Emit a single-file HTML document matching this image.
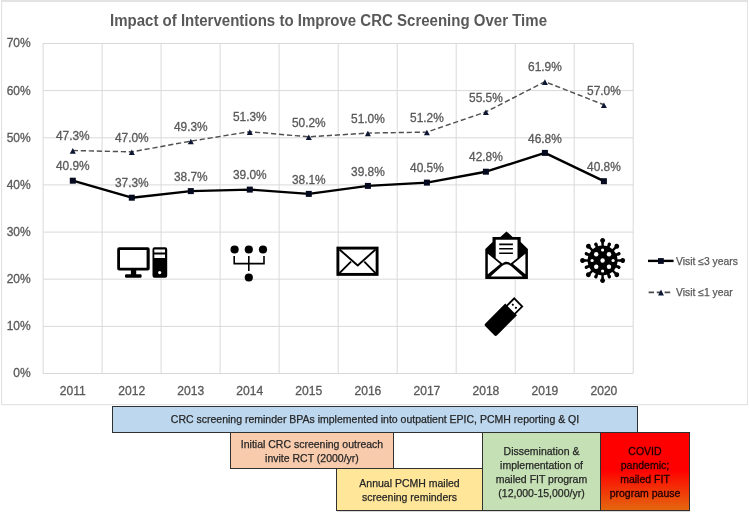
<!DOCTYPE html>
<html><head><meta charset="utf-8">
<style>
html,body{margin:0;padding:0;background:#fff;}
body{width:749px;height:512px;overflow:hidden;position:relative;font-family:"Liberation Sans",sans-serif;}
svg{position:absolute;left:0;top:0;will-change:transform;}
.box{will-change:transform;position:absolute;box-sizing:border-box;border:1px solid #303030;display:flex;align-items:center;justify-content:center;text-align:center;font-size:10.5px;line-height:14px;color:#262626;-webkit-text-stroke:0.25px #262626;}
</style></head>
<body>
<svg width="749" height="512" viewBox="0 0 749 512" font-family="Liberation Sans, sans-serif">
  <g fill="#e3e3e3"><rect x="1" y="0" width="747" height="2"/><rect x="1" y="0" width="1.2" height="405"/><rect x="747" y="0" width="1" height="405"/><rect x="1" y="404" width="747" height="1.2"/></g>
  <text x="110" y="25.8" font-size="16" font-weight="bold" fill="#595959" textLength="437" lengthAdjust="spacingAndGlyphs">Impact of Interventions to Improve CRC Screening Over Time</text>
<g stroke="#d9d9d9" stroke-width="1" fill="none"><path d="M43 373.5H633.2M43 326.4H633.2M43 279.2H633.2M43 232.1H633.2M43 184.9H633.2M43 137.8H633.2M43 90.6H633.2M43 43.5H633.2"/><path d="M43.1 43V373.5M102.1 43V373.5M161.1 43V373.5M220.1 43V373.5M279.1 43V373.5M338.2 43V373.5M397.2 43V373.5M456.2 43V373.5M515.2 43V373.5M574.2 43V373.5M633.2 43V373.5"/></g>
<g font-size="12" fill="#595959" stroke="#595959" stroke-width="0.3" text-anchor="end">
<text x="30.7" y="47.4">70%</text>
<text x="30.7" y="94.5">60%</text>
<text x="30.7" y="141.7">50%</text>
<text x="30.7" y="188.8">40%</text>
<text x="30.7" y="236.0">30%</text>
<text x="30.7" y="283.1">20%</text>
<text x="30.7" y="330.3">10%</text>
<text x="30.7" y="377.4">0%</text>
</g>
<g font-size="12.1" fill="#595959" stroke="#595959" stroke-width="0.3" text-anchor="middle">
<text x="72.8" y="394.9">2011</text>
<text x="131.8" y="394.9">2012</text>
<text x="190.8" y="394.9">2013</text>
<text x="249.8" y="394.9">2014</text>
<text x="308.8" y="394.9">2015</text>
<text x="367.9" y="394.9">2016</text>
<text x="426.9" y="394.9">2017</text>
<text x="485.9" y="394.9">2018</text>
<text x="544.9" y="394.9">2019</text>
<text x="603.9" y="394.9">2020</text>
</g>
<polyline points="72.8,150.5 131.8,151.9 190.8,141.1 249.8,131.7 308.8,136.8 367.9,133.1 426.9,132.1 485.9,111.9 544.9,81.7 603.9,104.8" fill="none" stroke="#505050" stroke-width="1.45" stroke-dasharray="5.2 2.8"/>
<g fill="#0d1633">
<path d="M72.8 148.1l3 5.6h-6z"/>
<path d="M131.8 149.5l3 5.6h-6z"/>
<path d="M190.8 138.7l3 5.6h-6z"/>
<path d="M249.8 129.3l3 5.6h-6z"/>
<path d="M308.8 134.4l3 5.6h-6z"/>
<path d="M367.9 130.7l3 5.6h-6z"/>
<path d="M426.9 129.7l3 5.6h-6z"/>
<path d="M485.9 109.5l3 5.6h-6z"/>
<path d="M544.9 79.3l3 5.6h-6z"/>
<path d="M603.9 102.4l3 5.6h-6z"/>
</g>
<polyline points="72.8,180.7 131.8,197.7 190.8,191.1 249.8,189.6 308.8,193.9 367.9,185.9 426.9,182.6 485.9,171.7 544.9,152.9 603.9,181.2" fill="none" stroke="#000" stroke-width="2.4" stroke-linejoin="round"/>
<g fill="#050a1e">
<rect x="69.8" y="177.7" width="6" height="6"/>
<rect x="128.8" y="194.7" width="6" height="6"/>
<rect x="187.8" y="188.1" width="6" height="6"/>
<rect x="246.8" y="186.6" width="6" height="6"/>
<rect x="305.8" y="190.9" width="6" height="6"/>
<rect x="364.9" y="182.9" width="6" height="6"/>
<rect x="423.9" y="179.6" width="6" height="6"/>
<rect x="482.9" y="168.7" width="6" height="6"/>
<rect x="541.9" y="149.9" width="6" height="6"/>
<rect x="600.9" y="178.2" width="6" height="6"/>
</g>
<g font-size="11.9" fill="#595959" stroke="#595959" stroke-width="0.3" text-anchor="middle">
<text x="72.8" y="140.2">47.3%</text>
<text x="131.8" y="141.6">47.0%</text>
<text x="190.8" y="130.8">49.3%</text>
<text x="249.8" y="121.4">51.3%</text>
<text x="308.8" y="126.5">50.2%</text>
<text x="367.9" y="122.8">51.0%</text>
<text x="426.9" y="121.8">51.2%</text>
<text x="485.9" y="101.6">55.5%</text>
<text x="544.9" y="71.4">61.9%</text>
<text x="603.9" y="94.5">57.0%</text>
<text x="72.8" y="170.4">40.9%</text>
<text x="131.8" y="187.4">37.3%</text>
<text x="190.8" y="180.8">38.7%</text>
<text x="249.8" y="179.3">39.0%</text>
<text x="308.8" y="183.6">38.1%</text>
<text x="367.9" y="175.6">39.8%</text>
<text x="426.9" y="172.3">40.5%</text>
<text x="485.9" y="161.4">42.8%</text>
<text x="544.9" y="142.6">46.8%</text>
<text x="603.9" y="170.9">40.8%</text>
</g>
  <!-- legend -->
  <path d="M648 260.9H673.6" stroke="#000" stroke-width="2.4"/>
  <rect x="658" y="258.1" width="5.8" height="5.8" fill="#050a1e"/>
  <path d="M648.6 292.4H654M656.8 292.4H660M664.6 292.4H670.2" stroke="#4a4a4a" stroke-width="1.6"/>
  <path d="M661 289.6l2.9 5.8h-5.8z" fill="#0d1633"/>
  <g font-size="10.35" fill="#595959" stroke="#595959" stroke-width="0.25">
    <text x="676" y="264.8">Visit ≤3 years</text>
    <text x="676" y="296.4">Visit ≤1 year</text>
  </g>
  <!-- computer 2012 -->
  <g fill="#000">
    <path fill-rule="evenodd" d="M119.2 247.2h28.5a2 2 0 0 1 2 2v19.4a2 2 0 0 1-2 2h-28.5a2 2 0 0 1-2-2v-19.4a2 2 0 0 1 2-2zM120 249.9v17.8h26.6v-17.8z"/>
    <rect x="130.9" y="270" width="5.3" height="5"/>
    <rect x="125" y="274.2" width="16.6" height="3.6" rx="1.2"/>
    <path fill-rule="evenodd" d="M154.5 247.2h10.7a2 2 0 0 1 2 2v26.6a2 2 0 0 1-2 2h-10.7a2 2 0 0 1-2-2v-26.6a2 2 0 0 1 2-2zM154.3 249.5v2.9h10.7v-2.9zM154.3 254.5v3.5h10.7v-3.5z"/>
    <circle cx="159.7" cy="272.6" r="1.6" fill="#fff"/>
  </g>
  <!-- network 2014 -->
  <g fill="#000">
    <circle cx="234.6" cy="249.5" r="4.1"/>
    <circle cx="248.8" cy="249.5" r="4.1"/>
    <circle cx="263" cy="249.5" r="4.1"/>
    <circle cx="248.8" cy="277.5" r="4.1"/>
    <path d="M234.2 256V263.6H264V256M248.8 256V271" fill="none" stroke="#000" stroke-width="1.6"/>
  </g>
  <!-- envelope 2016 -->
  <g>
    <rect x="337.9" y="248.1" width="39.2" height="26.3" fill="none" stroke="#000" stroke-width="2.9"/>
    <path d="M339.5 249.5L357.7 265.5L375.5 249.5M339.5 273.2L351 261.6M375.5 273.2L364.3 261.6" fill="none" stroke="#000" stroke-width="1.9" stroke-linejoin="round"/>
  </g>
  <!-- open envelope 2018 -->
  <g>
    <path d="M485.3 249.1L492.5 241.9V237H500.3L506.5 231.4L512.7 237H520.7V241.9L527.9 249.1V279H485.3Z" fill="#000"/>
    <path fill="#fff" d="M487.8 253.7L500.2 263.9L487.8 274.3Z M525.4 253.7L513 263.9L525.4 274.3Z M490.5 276.4L501.8 266.3C504.6 263.6 508.4 263.6 511.2 266.3L522.7 276.4Z M495.7 239.7H517.5V257.9L510.6 263.4C508.2 261.2 504.8 261.2 502.4 263.4L495.7 257.9Z"/>
    <path d="M499.2 244.4H512.9M499.2 248.7H512.9M499.2 253.2H512.9" stroke="#000" stroke-width="1.6"/>
  </g>
  <!-- usb 2018 -->
  <g transform="translate(500.5 320.1) rotate(-45)">
    <path d="M-13.1 -8.3H15V8.3H-13.1A2 2 0 0 1 -15.1 6.3V-6.3A2 2 0 0 1 -13.1 -8.3Z" fill="#000"/>
    <rect x="14" y="-5.65" width="11.05" height="11.3" fill="#fff" stroke="#000" stroke-width="1.8"/>
    <circle cx="19.6" cy="-2.2" r="1.1" fill="#000"/>
    <circle cx="19.6" cy="2.2" r="1.1" fill="#000"/>
  </g>
  <!-- virus 2020 -->
  <g transform="translate(602.6 260.5)" fill="#000">
    <defs>
      <g id="spk"><path d="M-1.2 -14V-17.5h2.4V-14z"/><path d="M0 -15.8L2.45 -19.5A2.5 2.5 0 1 0 -2.45 -19.5Z"/></g>
      <g id="sm"><path d="M-1.4 -14V-17.6A1.4 1.4 0 0 1 1.4 -17.6V-14z" transform="rotate(22.5)"/><circle cy="-17.6" r="1.7" transform="rotate(22.5)"/></g>
    </defs>
    <circle r="15"/>
    <use href="#spk"/>
    <use href="#spk" transform="rotate(45)"/>
    <use href="#spk" transform="rotate(90)"/>
    <use href="#spk" transform="rotate(135)"/>
    <use href="#spk" transform="rotate(180)"/>
    <use href="#spk" transform="rotate(225)"/>
    <use href="#spk" transform="rotate(270)"/>
    <use href="#spk" transform="rotate(315)"/>
    <use href="#sm"/>
    <use href="#sm" transform="rotate(45)"/>
    <use href="#sm" transform="rotate(90)"/>
    <use href="#sm" transform="rotate(135)"/>
    <use href="#sm" transform="rotate(180)"/>
    <use href="#sm" transform="rotate(225)"/>
    <use href="#sm" transform="rotate(270)"/>
    <use href="#sm" transform="rotate(315)"/>
    <g fill="#fff">
      <circle r="2.2"/>
      <circle cx="-6.4" cy="-6.3" r="2.2"/>
      <circle cx="6.4" cy="-6.3" r="2.2"/>
      <circle cx="-6.4" cy="6.3" r="2.2"/>
      <circle cx="6.4" cy="6.3" r="2.2"/>
      <circle cy="-10.5" r="1.6"/>
      <circle cy="10.5" r="1.6"/>
      <circle cx="-10.5" r="1.6"/>
      <circle cx="10.5" r="1.6"/>
    </g>
  </g>

</svg>
<div class="box" style="left:112px;top:406px;width:526px;height:27px;padding-bottom:1px;background:#bdd7ee;">CRC screening reminder BPAs implemented into outpatient EPIC, PCMH reporting &amp; QI</div>
<div class="box" style="left:230px;top:432px;width:164px;height:37px;background:#f8cbad;">Initial CRC screening outreach<br>invite RCT (2000/yr)</div>
<div class="box" style="left:336px;top:468px;width:147px;height:43px;background:#ffe699;">Annual PCMH mailed<br>screening reminders</div>
<div class="box" style="left:482px;top:432px;width:119px;height:79px;background:#c5e0b4;">Dissemination &amp;<br>implementation of<br>mailed FIT program<br>(12,000-15,000/yr)</div>
<div class="box" style="left:600px;top:432px;width:90px;height:79px;background:linear-gradient(#ff0000 0%,#ff0000 48%,#e4680f 100%);color:#1e0000;-webkit-text-stroke:0.3px #1e0000;">COVID<br>pandemic;<br>mailed FIT<br>program pause</div>
<div style="position:absolute;left:337px;top:511px;width:353px;height:1px;background:#d8d8d8;"></div>
</body></html>
